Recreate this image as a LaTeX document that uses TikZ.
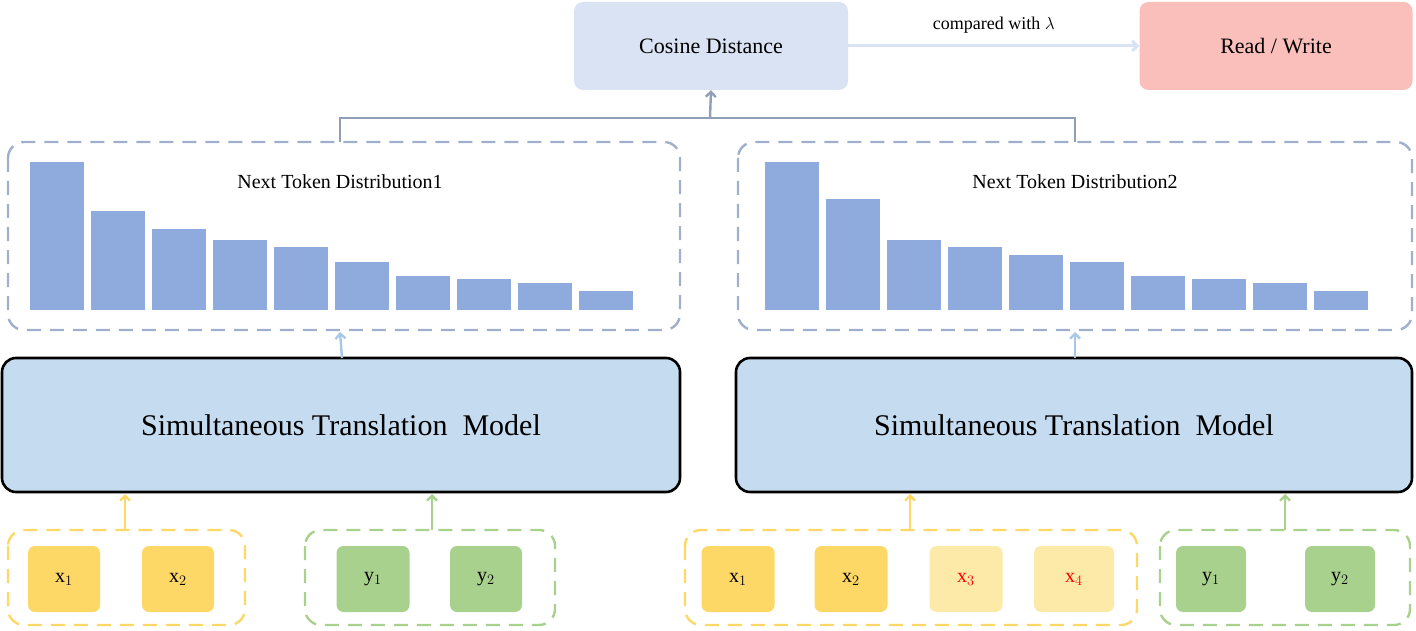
\documentclass[tikz,border=0pt]{standalone}
\usepackage{fontspec}
\setmainfont{Liberation Serif}
\begin{document}
\begin{tikzpicture}[x=1pt,y=-1pt,
 box/.style={rounded corners=9pt,inner sep=0},
 tok/.style={box,rounded corners=7pt,font=\fontsize{20}{20}\selectfont},
 bar/.style={fill=barc,draw=none},
 dashbox/.style={dashed,line width=2.4pt,dash pattern=on 14pt off 9pt,rounded corners=16pt},
 model/.style={draw=black,line width=2.6pt,fill=modc,rounded corners=14pt,font=\fontsize{30}{30}\selectfont},
 arr/.style={->,line width=2.4pt,>={Straight Barb[length=5pt,width=10pt]}}]
\definecolor{barc}{HTML}{8FAADC}
\definecolor{modc}{HTML}{C5DCF0}
\definecolor{cosc}{HTML}{DAE3F3}
\definecolor{rwc}{HTML}{FBBFBB}
\definecolor{yel}{HTML}{FDD866}
\definecolor{lyel}{HTML}{FEEAA8}
\definecolor{grn}{HTML}{A9D18E}
\definecolor{dsh}{HTML}{A0B0CC}
\definecolor{lblue}{HTML}{A9C8E8}
\usetikzlibrary{arrows.meta}
\useasboundingbox (0,0) rectangle (1416,631);
% top
\node[box,fill=cosc,minimum width=274pt,minimum height=88pt,font=\fontsize{22}{22}\selectfont] (cos) at (711,46) {Cosine Distance};
\node[box,fill=rwc,minimum width=273pt,minimum height=88pt,font=\fontsize{22}{22}\selectfont] (rw) at (1276,46) {Read / Write};
\draw[arr,cosc,line width=3pt] (cos.east) -- node[above=8pt,black,font=\fontsize{18}{18}\selectfont]{compared with $\lambda$} (rw.west);
% dist boxes
\draw[dashbox,dsh] (8,142) rectangle (680,330);
\draw[dashbox,dsh] (738,142) rectangle (1412,330);
\coordinate (d1) at (340,142);
\coordinate (d2) at (1075,142);
\node[font=\fontsize{20}{20}\selectfont] at (340,182) {Next Token Distribution1};
\node[font=\fontsize{20}{20}\selectfont] at (1075,182) {Next Token Distribution2};
\foreach \t [count=\i from 0] in {162,211,229,240,247,262,276,279,283,291}
  \fill[barc] (30+61*\i,\t) rectangle (84+61*\i,310);
\foreach \t [count=\i from 0] in {162,199,240,247,255,262,276,279,283,291}
  \fill[barc] (765+61*\i,\t) rectangle (819+61*\i,310);
\coordinate (j) at (710,118);
\draw[dsh!90!black,line width=2.4pt] (d1) |- (j) -| (d2);
\draw[arr,dsh!90!black] (j) -- (cos.south);
% models
\node[model,minimum width=678pt,minimum height=134pt] (m1) at (341,425) {Simultaneous Translation\ \ Model};
\node[model,minimum width=676pt,minimum height=134pt] (m2) at (1074,425) {Simultaneous Translation\ \ Model};
\draw[arr,lblue] (342,358) -- (d1|-0,332);
\draw[arr,lblue] (1075,358) -- (d2|-0,332);
% inputs
\draw[dashbox,yel] (8,530) rectangle (245,625);
\draw[dashbox,grn] (305,530) rectangle (555,625);
\draw[dashbox,yel] (685,530) rectangle (1137,625);
\draw[dashbox,grn] (1160,530) rectangle (1410,625);
\draw[arr,yel] (125,530) -- (125,494);
\draw[arr,grn] (432,530) -- (432,494);
\draw[arr,yel] (910,530) -- (910,494);
\draw[arr,grn] (1285,530) -- (1285,494);
\node[tok,fill=yel,minimum width=72pt,minimum height=66pt] (a1) at (64,579) {x$_1$};
\node[tok,fill=yel,minimum width=72pt,minimum height=66pt] (a2) at (178,579) {x$_2$};
\node[tok,fill=grn,minimum width=73pt,minimum height=66pt] (b1) at (373,579) {y$_1$};
\node[tok,fill=grn,minimum width=72pt,minimum height=66pt] (b2) at (486,579) {y$_2$};
\node[tok,fill=yel,minimum width=73pt,minimum height=66pt] (c1) at (738,579) {x$_1$};
\node[tok,fill=yel,minimum width=73pt,minimum height=66pt] (c2) at (851,579) {x$_2$};
\node[tok,fill=lyel,minimum width=73pt,minimum height=66pt,text=red] (c3) at (966,579) {x$_3$};
\node[tok,fill=lyel,minimum width=80pt,minimum height=66pt,text=red] (c4) at (1074,579) {x$_4$};
\node[tok,fill=grn,minimum width=70pt,minimum height=66pt] (e1) at (1211,579) {y$_1$};
\node[tok,fill=grn,minimum width=70pt,minimum height=66pt] (e2) at (1340,579) {y$_2$};
\end{tikzpicture}
\end{document}
